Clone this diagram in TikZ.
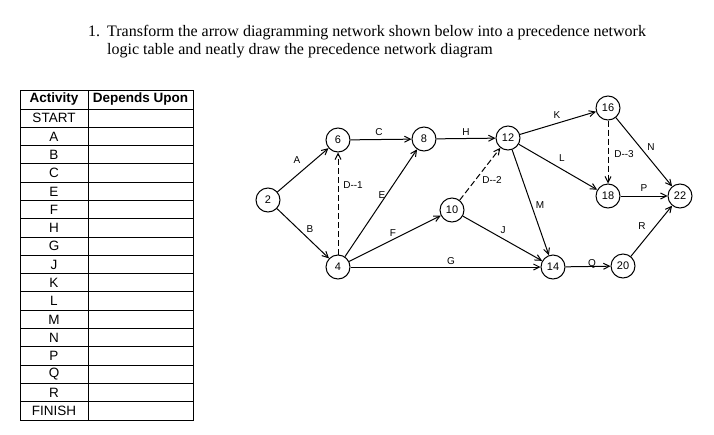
\documentclass[tikz,border=0pt]{standalone}
\usepackage{fontspec}
\setmainfont{Liberation Serif}
\newfontfamily\arial{Liberation Sans}
\usetikzlibrary{arrows.meta}
\begin{document}
\begin{tikzpicture}[x=1pt,y=-1pt,
  ev/.style={circle,draw,line width=1pt,minimum size=24pt,inner sep=0pt,font=\arial\fontsize{11}{12}\selectfont},
  act/.style={-{Straight Barb[length=6pt,width=6pt]},line width=1pt},
  dum/.style={act,dash pattern=on 6pt off 3pt},
  lab/.style={font=\arial\fontsize{10}{11}\selectfont,inner sep=0pt},
  cell/.style={font=\arial\fontsize{13.5}{14}\selectfont},
  ttl/.style={anchor=base west,font=\fontsize{16}{18}\selectfont,inner sep=0pt}]
\useasboundingbox (0,0) rectangle (714,434);
\node[ttl] (n1) at (88,36) {1.};
\node[ttl] (t1) at (107,36) {Transform the arrow diagramming network shown below into a precedence network};
\node[ttl] (t2) at (107,54) {logic table and neatly draw the precedence network diagram};
% table
\draw[line width=1pt] (20,90) rectangle (193,420);
\draw[line width=1pt] (88,90) -- (88,420);
\draw[line width=1pt] (20,109) -- (193,109);
\node[cell,font=\arial\bfseries\fontsize{13.5}{14}\selectfont] (h1) at (54,99.5) {Activity};
\node[cell,font=\arial\bfseries\fontsize{13.5}{14}\selectfont] (h2) at (140.5,99.5) {Depends Upon};
\foreach \t [count=\i] in {START,A,B,C,E,F,H,G,J,K,L,M,N,P,Q,R,FINISH}{
  \pgfmathsetmacro\yy{109+\i*18.294}
  \draw[line width=1pt] (20,\yy) -- (193,\yy);
  \node[cell] (r\i) at (54,\yy-9.1) {\t};
}
% network
\node[ev] (e2) at (268,200) {2};
\node[ev] (e6) at (338,140) {6};
\node[ev] (e8) at (424,139) {8};
\node[ev] (e12) at (508,138) {12};
\node[ev] (e16) at (608,108) {16};
\node[ev] (e18) at (608,196) {18};
\node[ev] (e22) at (680,196) {22};
\node[ev] (e10) at (452,210) {10};
\node[ev] (e4) at (338,267) {4};
\node[ev] (e14) at (553,267) {14};
\node[ev] (e20) at (623,266) {20};
\draw[act] (e2) -- (e6);
\draw[act] (e2) -- (e4);
\draw[act] (e6) -- (e8);
\draw[act] (e8) -- (e12);
\draw[act] (e12) -- (e16);
\draw[act] (e12) -- (e18);
\draw[act] (e12) -- (e14);
\draw[act] (e16) -- (e22);
\draw[act] (e18) -- (e22);
\draw[act] (e4) -- (e8);
\draw[act] (e4) -- (e10);
\draw[act] (e4) -- (e14);
\draw[act] (e10) -- (e14);
\draw[act] (e14) -- (e20);
\draw[act] (e20) -- (e22);
\draw[dum] (e4) -- (e6);
\draw[dum] (e10) -- (e12);
\draw[dum] (e16) -- (e18);
\node[lab] (lA) at (297,160) {A};
\node[lab] (lB) at (310,229) {B};
\node[lab] (lC) at (379,132) {C};
\node[lab] (lH) at (466,132) {H};
\node[lab] (lK) at (557,115) {K};
\node[lab] (lD1) at (353,185) {D--1};
\node[lab] (lE) at (382,195) {E};
\node[lab] (lF) at (393,233) {F};
\node[lab] (lG) at (451,261) {G};
\node[lab] (lD2) at (492,180) {D--2};
\node[lab] (lJ) at (503,230) {J};
\node[lab] (lM) at (540,205) {M};
\node[lab] (lL) at (562,158) {L};
\node[lab] (lD3) at (624,154) {D--3};
\node[lab] (lN) at (651,147) {N};
\node[lab] (lP) at (644,188) {P};
\node[lab] (lQ) at (592,264) {Q};
\node[lab] (lR) at (642,226) {R};
\end{tikzpicture}
\end{document}
